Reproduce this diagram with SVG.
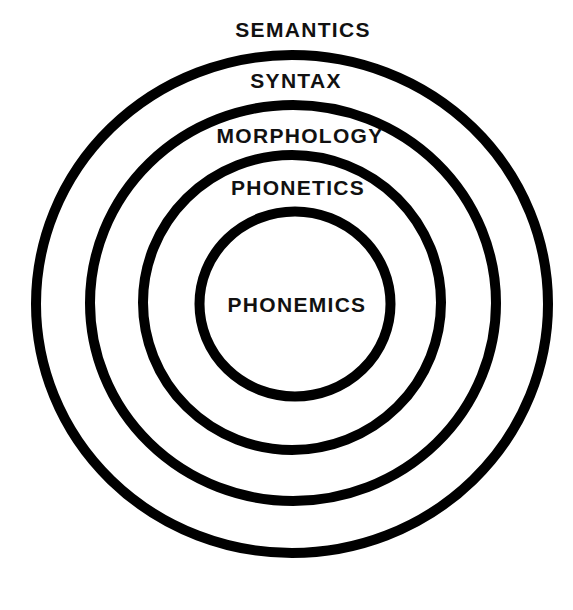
<svg xmlns="http://www.w3.org/2000/svg" width="573" height="610" viewBox="0 0 573 610">
<style>
.ring{fill:none;stroke:#000;stroke-width:10}
.lbl{font-family:"Liberation Sans",Arial,sans-serif;font-weight:bold;font-size:21px;fill:#111;text-anchor:middle;letter-spacing:1.3px}
</style>
<rect width="573" height="610" fill="#fff"/>
<g id="semantics">
<ellipse class="ring" cx="292" cy="304" rx="256" ry="249"/>
<text class="lbl" x="303" y="37">SEMANTICS</text>
</g>
<g id="syntax">
<ellipse class="ring" cx="293" cy="303" rx="203" ry="198"/>
<text class="lbl" x="296" y="88">SYNTAX</text>
</g>
<g id="morphology">
<ellipse class="ring" cx="292" cy="302.5" rx="149" ry="147.5"/>
<text class="lbl" x="300" y="143">MORPHOLOGY</text>
</g>
<g id="phonetics">
<ellipse class="ring" cx="295" cy="304" rx="95.5" ry="92.5"/>
<text class="lbl" x="298" y="195">PHONETICS</text>
</g>
<g id="phonemics">
<text class="lbl" x="297" y="312">PHONEMICS</text>
</g>
<g id="connectors"></g>
</svg>
